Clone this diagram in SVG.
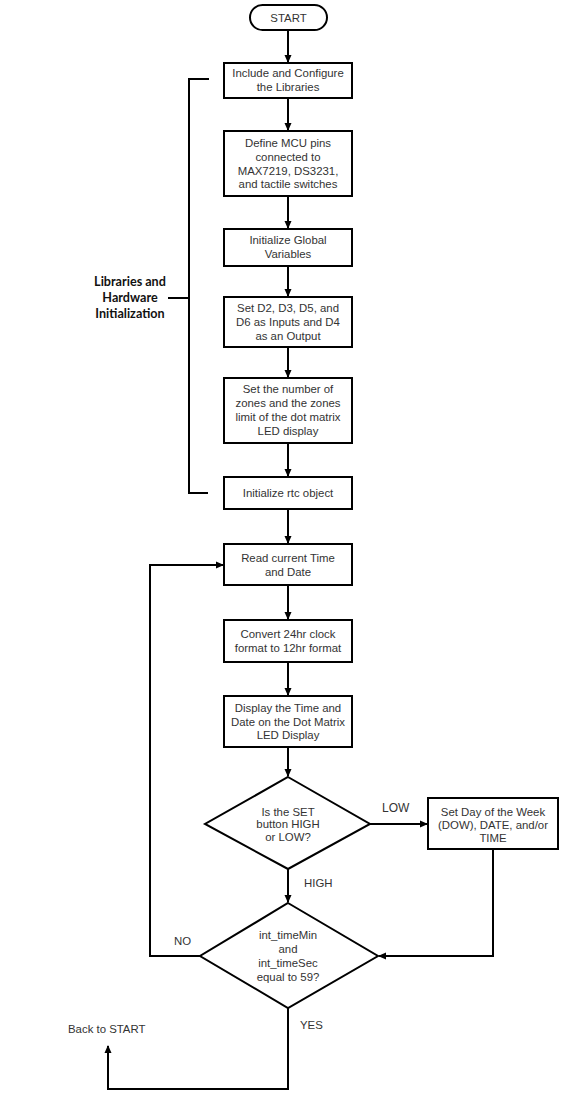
<svg xmlns="http://www.w3.org/2000/svg" width="576" height="1093" viewBox="0 0 576 1093">
<defs>
<marker id="ah" markerWidth="8" markerHeight="8" refX="7" refY="4" orient="auto" markerUnits="userSpaceOnUse">
<path d="M0,0.5 L8,4 L0,7.5 Z" fill="#000"/>
</marker>
<style>
.box{fill:#fff;stroke:#000;stroke-width:2}
.t{font-family:"Liberation Sans",Arial,sans-serif;font-size:11.4px;fill:#333;text-anchor:middle}
.lbl{font-family:"Liberation Sans",Arial,sans-serif;font-size:11.4px;fill:#333}
.c{fill:none;stroke:#000;stroke-width:2}
.b{font-family:Lato,"Open Sans",sans-serif;font-size:12.6px;font-weight:bold;fill:#111;text-anchor:middle}
</style>
</defs>
<rect width="576" height="1093" fill="#fff"/>
<g id="connectors">
<path class="c" d="M288,30 V62" marker-end="url(#ah)"/>
<path class="c" d="M288,98 V130" marker-end="url(#ah)"/>
<path class="c" d="M288,196 V228" marker-end="url(#ah)"/>
<path class="c" d="M288,266 V296" marker-end="url(#ah)"/>
<path class="c" d="M288,347 V377" marker-end="url(#ah)"/>
<path class="c" d="M288,443 V476" marker-end="url(#ah)"/>
<path class="c" d="M288,509 V543" marker-end="url(#ah)"/>
<path class="c" d="M288,585 V619" marker-end="url(#ah)"/>
<path class="c" d="M288,662 V695" marker-end="url(#ah)"/>
<path class="c" d="M288,747 V776" marker-end="url(#ah)"/>
<path class="c" d="M370,824 H427" marker-end="url(#ah)"/>
<path class="c" d="M288,869 V902" marker-end="url(#ah)"/>
<path class="c" d="M493,849 V956 H379" marker-end="url(#ah)"/>
<path class="c" d="M200,956 H150 V565 H223" marker-end="url(#ah)"/>
<path class="c" d="M288,1008 V1089 H108 V1046" marker-end="url(#ah)"/>
<path class="c" d="M209,79 H189 V493 H208"/>
<path class="c" d="M168,298 H189"/>
<text class="lbl" x="382" y="812" style="font-size:12px">LOW</text>
<text class="lbl" x="304" y="887">HIGH</text>
<text class="lbl" x="174" y="945">NO</text>
<text class="lbl" x="300" y="1029">YES</text>
<text class="lbl" x="68" y="1033">Back to START</text>
</g>
<g id="bracket-label">
<text class="b" x="130" y="286">Libraries and</text>
<text class="b" x="130" y="302">Hardware</text>
<text class="b" x="130" y="318">Initialization</text>
</g>
<g id="start">
<rect class="box" x="250" y="5" width="77" height="25" rx="12.5"/>
<text class="t" x="288.5" y="22">START</text>
</g>
<g id="n1">
<rect class="box" x="224" y="63" width="128" height="35"/>
<text class="t" x="288" y="77">Include and Configure</text>
<text class="t" x="288" y="91">the Libraries</text>
</g>
<g id="n2">
<rect class="box" x="224" y="131" width="128" height="65"/>
<text class="t" x="288" y="147">Define MCU pins</text>
<text class="t" x="288" y="161">connected to</text>
<text class="t" x="288" y="175">MAX7219, DS3231,</text>
<text class="t" x="288" y="188">and tactile switches</text>
</g>
<g id="n3">
<rect class="box" x="224" y="229" width="128" height="37"/>
<text class="t" x="288" y="244">Initialize Global</text>
<text class="t" x="288" y="258">Variables</text>
</g>
<g id="n4">
<rect class="box" x="224" y="297" width="128" height="50"/>
<text class="t" x="288" y="312">Set D2, D3, D5, and</text>
<text class="t" x="288" y="326">D6 as Inputs and D4</text>
<text class="t" x="288" y="340">as an Output</text>
</g>
<g id="n5">
<rect class="box" x="224" y="378" width="128" height="65"/>
<text class="t" x="288" y="393">Set the number of</text>
<text class="t" x="288" y="407">zones and the zones</text>
<text class="t" x="288" y="421">limit of the dot matrix</text>
<text class="t" x="288" y="435">LED display</text>
</g>
<g id="n6">
<rect class="box" x="224" y="477" width="128" height="32"/>
<text class="t" x="288" y="497">Initialize rtc object</text>
</g>
<g id="n7">
<rect class="box" x="224" y="544" width="128" height="41"/>
<text class="t" x="288" y="562">Read current Time</text>
<text class="t" x="288" y="576">and Date</text>
</g>
<g id="n8">
<rect class="box" x="224" y="620" width="128" height="42"/>
<text class="t" x="288" y="638">Convert 24hr clock</text>
<text class="t" x="288" y="652">format to 12hr format</text>
</g>
<g id="n9">
<rect class="box" x="224" y="696" width="128" height="51"/>
<text class="t" x="288" y="712">Display the Time and</text>
<text class="t" x="288" y="726">Date on the Dot Matrix</text>
<text class="t" x="288" y="739">LED Display</text>
</g>
<g id="d1">
<polygon class="box" points="288,777 370,824 288,869 205,824"/>
<text class="t" x="288" y="816">Is the SET</text>
<text class="t" x="288" y="828">button HIGH</text>
<text class="t" x="288" y="841">or LOW?</text>
</g>
<g id="n10">
<rect class="box" x="428" y="798" width="130" height="51"/>
<text class="t" x="493" y="816">Set Day of the Week</text>
<text class="t" x="493" y="829">(DOW), DATE, and/or</text>
<text class="t" x="493" y="842">TIME</text>
</g>
<g id="d2">
<polygon class="box" points="288,903 378,956 288,1008 200,956"/>
<text class="t" x="288" y="939">int_timeMin</text>
<text class="t" x="288" y="953">and</text>
<text class="t" x="288" y="967">int_timeSec</text>
<text class="t" x="288" y="981">equal to 59?</text>
</g>
</svg>
